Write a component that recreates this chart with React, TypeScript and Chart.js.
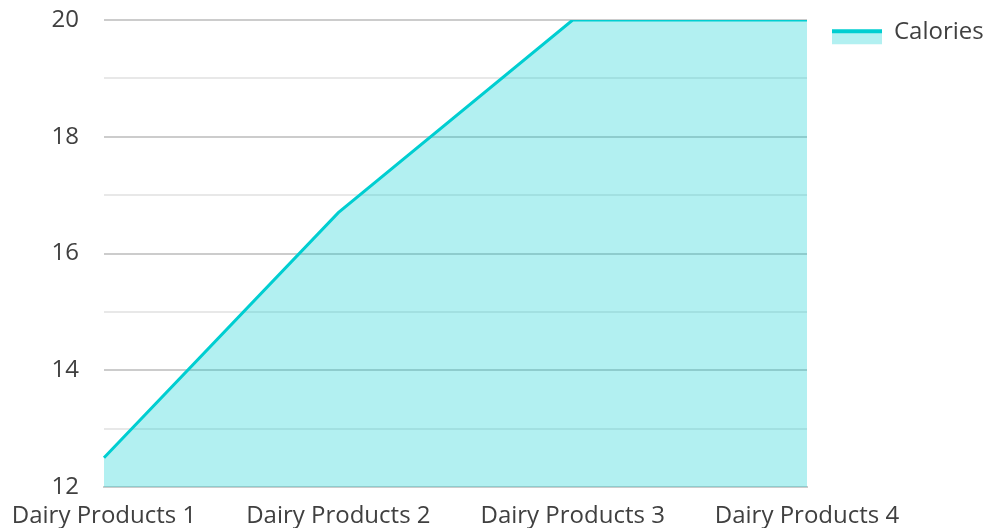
import React, { useEffect, useRef } from "react";
import { Chart, registerables } from "chart.js";

Chart.register(...registerables);

const categories = ["Dairy Products 1", "Dairy Products 2", "Dairy Products 3", "Dairy Products 4"];
const calories = [12.5, 16.7, 20, 20];
const seriesName = "Calories";
const yMin = 12;
const yMax = 20;

const LINE = "#00CED1";
const FILL = "rgba(0, 206, 209, 0.3)";
const TEXT = "#404040";
const FONT = "'Open Sans', 'Noto Sans', sans-serif";

function makeSwatch(): HTMLCanvasElement {
  const c = document.createElement("canvas");
  c.width = 50;
  c.height = 40;
  const g = c.getContext("2d")!;
  g.fillStyle = FILL;
  g.fillRect(0, 21, 50, 11);
  g.fillStyle = LINE;
  g.fillRect(0, 17, 50, 4);
  return c;
}

export default function App() {
  const ref = useRef<HTMLCanvasElement | null>(null);
  useEffect(() => {
    if (!ref.current) return;
    const swatch = makeSwatch();
    const chart = new Chart(ref.current, {
      type: "line",
      data: {
        labels: categories,
        datasets: [
          {
            label: seriesName,
            data: calories,
            borderColor: LINE,
            backgroundColor: FILL,
            borderWidth: 3,
            fill: "start",
            pointRadius: 0,
            tension: 0,
          },
        ],
      },
      options: {
        animation: false,
        responsive: false,
        maintainAspectRatio: false,
        layout: { padding: 0 },
        plugins: {
          tooltip: { enabled: false },
          legend: {
            position: "right",
            align: "start",
            maxWidth: 160,
            title: {
              display: true,
              text: " ",
              font: { size: 1 },
              padding: { top: 15, bottom: 0 },
            },
            labels: {
              usePointStyle: true,
              pointStyleWidth: 50,
              boxWidth: 50,
              boxHeight: 14,
              color: TEXT,
              font: { family: FONT, size: 24 },
              padding: 4,
              generateLabels: (ch: any) =>
                ch.data.datasets.map((ds: any, i: number) => ({
                  text: ds.label,
                  pointStyle: swatch,
                  fillStyle: FILL,
                  strokeStyle: LINE,
                  lineWidth: 0,
                  hidden: false,
                  datasetIndex: i,
                  fontColor: TEXT,
                })),
            },
          },
        },
        scales: {
          x: {
            offset: false,
            grid: { display: false, drawTicks: false },
            border: { display: true, color: "#cccccc", width: 2 },
            ticks: {
              color: TEXT,
              font: { family: FONT, size: 24 },
              padding: 15,
              maxRotation: 0,
              autoSkip: false,
            },
            afterFit: (s: any) => {
              s.height = 41;
              s.paddingLeft = 0;
              s.paddingRight = 0;
            },
          },
          y: {
            min: yMin,
            max: yMax,
            grid: {
              drawTicks: false,
              color: (ctx: any) =>
                ctx.tick && ctx.tick.value % 2 === 0 ? "#cccccc" : "#e8e8e8",
              lineWidth: 2,
            },
            border: { display: false },
            ticks: {
              stepSize: 1,
              color: TEXT,
              font: { family: FONT, size: 24 },
              padding: 25,
              callback: (v: any) => (Number(v) % 2 === 0 ? String(v) : ""),
            },
            afterFit: (s: any) => {
              s.width = 104;
              s.paddingTop = 20;
              s.paddingBottom = 0;
            },
          },
          gap: {
            type: "linear",
            position: "right",
            display: true,
            grid: { display: false, drawTicks: false },
            border: { display: false },
            ticks: { display: false },
            afterFit: (s: any) => {
              s.width = 21;
              s.paddingTop = 0;
              s.paddingBottom = 0;
            },
          },
        },
      },
    });
    return () => chart.destroy();
  }, []);
  return (
    <div style={{ position: "absolute", left: 0, top: 0, width: 988, height: 528 }}>
      <canvas ref={ref} width={988} height={528} style={{ width: 988, height: 528 }} />
    </div>
  );
}
